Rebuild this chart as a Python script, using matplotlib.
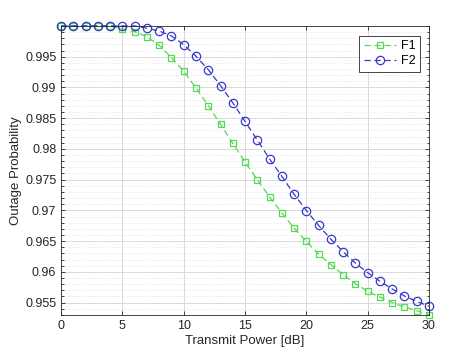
import numpy as np
import matplotlib
matplotlib.use("Agg")
import matplotlib.pyplot as plt
from matplotlib.ticker import MultipleLocator

# data
power_db = list(range(0, 31))
f1 = [1.0, 1.0, 1.0, 1.0, 1.0, 0.99949, 0.99906, 0.99824, 0.99685, 0.99484,
      0.99263, 0.98987, 0.98705, 0.98397, 0.98089, 0.97787, 0.97500, 0.97219,
      0.96960, 0.96710, 0.96494, 0.96288, 0.96117, 0.95954, 0.95808, 0.95683,
      0.95591, 0.95500, 0.95429, 0.95370, 0.95305]
f2 = [1.0, 1.0, 1.0, 1.0, 1.0, 1.0, 1.0, 0.99961, 0.99917, 0.99836,
      0.99695, 0.99506, 0.99289, 0.99030, 0.98749, 0.98446, 0.98144, 0.97836,
      0.97554, 0.97262, 0.96997, 0.96754, 0.96532, 0.96327, 0.96142, 0.95987,
      0.95846, 0.95721, 0.95607, 0.95521, 0.95440]
labels = ["F1", "F2"]
ytick_vals = [0.955, 0.96, 0.965, 0.97, 0.975, 0.98, 0.985, 0.99, 0.995]
ytick_labels = ["0.955", "0.96", "0.965", "0.97", "0.975", "0.98", "0.985", "0.99", "0.995"]

plt.rcParams['font.family'] = ['Liberation Sans', 'DejaVu Sans']

fig = plt.figure(figsize=(4.74, 3.55), dpi=100)
ax = fig.add_axes([0.129, 0.113, 0.776, 0.814])

green = (0.33, 0.85, 0.33)
blue = (0.22, 0.22, 0.80)
ax.plot(power_db, f1, linestyle=(0, (5, 3)), color=green, marker='s', markersize=5,
        markerfacecolor='none', markeredgewidth=0.9, linewidth=0.9, label=labels[0], clip_on=False)
ax.plot(power_db, f2, linestyle=(0, (5, 3)), color=blue, marker='o', markersize=6,
        markerfacecolor='none', markeredgewidth=0.9, linewidth=0.9, label=labels[1], clip_on=False)

ax.set_xlim(0, 30)
ax.set_ylim(0.9530, 1.0)
ax.set_xticks([0, 5, 10, 15, 20, 25, 30])
ax.set_yticks(ytick_vals)
ax.set_yticklabels(ytick_labels)
ax.yaxis.set_minor_locator(MultipleLocator(0.001))

ax.grid(True, which='major', color=(0.85, 0.85, 0.85), linewidth=0.7)
ax.grid(True, which='minor', axis='y', color=(0.88, 0.88, 0.88), linestyle=':', linewidth=0.6)
ax.set_axisbelow(True)

ax.tick_params(which='both', direction='in', top=True, right=True,
               labelsize=9, colors=(0.15, 0.15, 0.15), width=0.6)
ax.tick_params(which='major', length=3)
ax.tick_params(which='minor', length=1.8)
for s in ax.spines.values():
    s.set_color((0.15, 0.15, 0.15))
    s.set_linewidth(0.6)

ax.set_xlabel("Transmit Power [dB]", fontsize=9.5, color=(0.15, 0.15, 0.15), labelpad=2)
ax.set_ylabel("Outage Probability", fontsize=9.5, color=(0.15, 0.15, 0.15), labelpad=2)

leg = ax.legend(loc='upper right', bbox_to_anchor=(0.976, 0.966), borderaxespad=0,
                fontsize=9, fancybox=False, framealpha=1, edgecolor=(0.15, 0.15, 0.15),
                handlelength=2.6, borderpad=0.35, labelspacing=0.25, handletextpad=0.4)
leg.get_frame().set_linewidth(0.6)

fig.savefig("out.png", dpi=100)
